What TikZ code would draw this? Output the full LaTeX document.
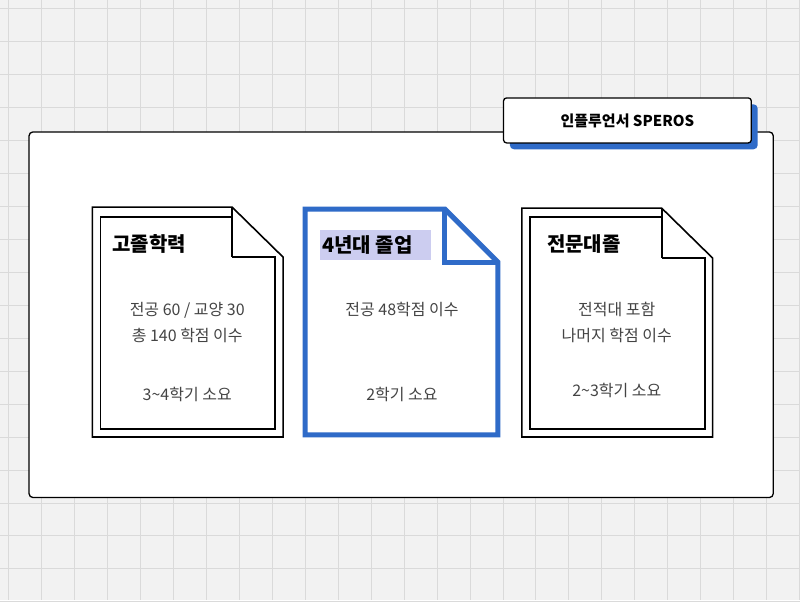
\documentclass[tikz,border=0pt]{standalone}
\usepackage{fontspec}
\setmainfont{Noto Sans CJK KR}
\definecolor{bl}{HTML}{2F6BC8}
\definecolor{hl}{HTML}{CCCDF0}
\definecolor{gridc}{HTML}{DADADA}
\definecolor{bgc}{HTML}{F2F2F2}
\definecolor{tx}{HTML}{444444}
\tikzset{ttl/.style={font=\fontsize{20}{22}\selectfont\bfseries, anchor=west, inner sep=2pt},
 body/.style={font=\fontsize{16}{26}\selectfont, text=tx, align=center},
 docline/.style={line width=1.6pt, line join=miter}}
\begin{document}
\begin{tikzpicture}[x=1pt,y=-1pt]
\fill[bgc] (0,0) rectangle (800,600);
\foreach \i in {0,...,24} \draw[gridc,line width=0.8pt] (\i*33+8,0) -- (\i*33+8,600);
\foreach \i in {0,...,18} \draw[gridc,line width=0.8pt] (0,\i*33+8) -- (800,\i*33+8);
\useasboundingbox (0,0) rectangle (800,600);
\node[draw,line width=1.3pt,fill=white,rounded corners=4pt,minimum width=745,minimum height=366,anchor=north west] (main) at (28,131) {};
\fill[bl,rounded corners=4pt] (510,104) rectangle (758,149);
\node[draw,line width=1.3pt,fill=white,rounded corners=3pt,minimum width=248,minimum height=45,anchor=north west,font=\fontsize{15}{16}\selectfont\bfseries] (tab) at (503,97) {인플루언서 SPEROS};
% doc 1
\draw[docline] (92,207) -- (232,207) -- (283,257) -- (283,437) -- (92,437) -- cycle;
\draw[docline] (232,207) -- (232,257);
\draw[docline] (100,217) -- (232,217);
\draw[docline] (232,257) -- (275,257) -- (275,429) -- (100,429) -- (100,216.2);
\node[ttl] (t1) at (110,244) {고졸학력};
\node[body] (b1) at (187,322) {전공 60 / 교양 30\\총 140 학점 이수};
\node[body] (c1) at (187,394) {3\textasciitilde4학기 소요};
% doc 2
\fill[hl] (320,230) rectangle (431,260);
\draw[bl,line width=5pt,line join=miter] (305,209) -- (445,209) -- (498,262) -- (498,435) -- (305,435) -- cycle;
\draw[bl,line width=5pt] (445,209) -- (445,262) -- (498,262);
\node[ttl] (t2) at (320,245) {4년대 졸업};
\node[body] (b2) at (402,309) {전공 48학점 이수};
\node[body] (c2) at (402,394) {2학기 소요};
% doc 3
\draw[docline] (522,208) -- (662,208) -- (713,258) -- (713,437) -- (522,437) -- cycle;
\draw[docline] (662,208) -- (662,258);
\draw[docline] (530,217) -- (662,217);
\draw[docline] (662,258) -- (705,258) -- (705,429) -- (530,429) -- (530,216.2);
\node[ttl] (t3) at (545,244) {전문대졸};
\node[body] (b3) at (617,322) {전적대 포함\\나머지 학점 이수};
\node[body] (c3) at (617,390) {2\textasciitilde3학기 소요};
\end{tikzpicture}
\end{document}
